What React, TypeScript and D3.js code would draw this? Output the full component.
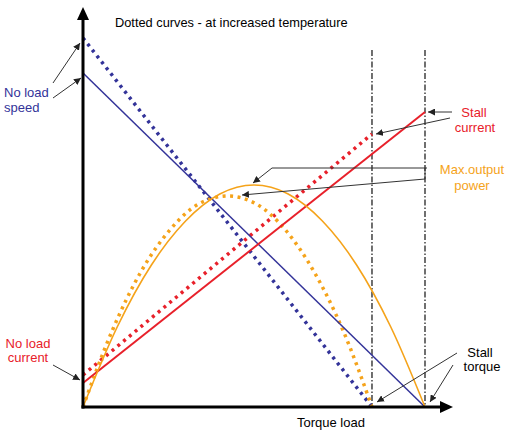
import { useEffect, useRef } from "react"
import * as d3 from "d3"

// torque in units where the normal stall torque is 10, values in chart units (0..400)
const speedNormal: [number, number][] = [[0, 334], [10, 0]]
const speedHot: [number, number][] = [[0, 369], [8.45, 0]]
const currentNormal: [number, number][] = [[0, 24], [10, 295]]
const currentHot: [number, number][] = [[0, 32], [8.45, 273]]

const powerTorqueNormal = [0, 1, 2, 3, 4, 5, 6, 7, 8, 9, 10]
const powerNormal = [0, 80, 142, 186, 213, 222, 213, 186, 142, 80, 0]
const powerTorqueHot = [0, 0.85, 1.69, 2.54, 3.38, 4.23, 5.07, 5.92, 6.76, 7.61, 8.45]
const powerHot = [0, 76, 135, 177, 203, 211, 203, 177, 135, 76, 0]

const stallTorques = [8.45, 10]

const BLUE = "#333399"
const RED = "#e8202a"
const ORANGE = "#f5a31a"
const FONT = "'Liberation Sans', Arial, sans-serif"

export default function App() {
  const svgRef = useRef<SVGSVGElement>(null)

  useEffect(() => {
    if (!svgRef.current) return
    const svg = d3.select(svgRef.current)
    svg.selectAll("*").remove()

    const width = 505
    const height = 433
    const x0 = 83
    const y0 = 407

    const x = d3.scaleLinear().domain([0, 10]).range([x0, 425])
    const y = d3.scaleLinear().domain([0, 400]).range([y0, 7])

    svg.attr("width", width).attr("height", height).attr("viewBox", [0, 0, width, height])

    const defs = svg.append("defs")
    defs
      .append("marker")
      .attr("id", "ah")
      .attr("viewBox", "0 0 10 10")
      .attr("refX", 10)
      .attr("refY", 5)
      .attr("markerWidth", 7)
      .attr("markerHeight", 7)
      .attr("markerUnits", "userSpaceOnUse")
      .attr("orient", "auto")
      .append("path")
      .attr("d", "M0,0 L10,5 L0,10 z")
      .attr("fill", "#222")

    // dash-dot stall torque verticals
    svg
      .selectAll("line.stall")
      .data(stallTorques)
      .enter()
      .append("line")
      .attr("x1", (d) => x(d))
      .attr("x2", (d) => x(d))
      .attr("y1", 50)
      .attr("y2", y0)
      .attr("stroke", "#111")
      .attr("stroke-width", 1.2)
      .attr("stroke-dasharray", "6 2 1.5 2")

    const line = d3
      .line<[number, number]>()
      .x((d) => x(d[0]))
      .y((d) => y(d[1]))

    const curve = d3
      .line<[number, number]>()
      .x((d) => x(d[0]))
      .y((d) => y(d[1]))
      .curve(d3.curveMonotoneX)

    const dotted = "3 4.5"

    const series = [
      { d: line(speedHot), c: BLUE, w: 3.5, dash: dotted },
      { d: line(currentHot), c: RED, w: 3.5, dash: dotted },
      { d: curve(powerTorqueHot.map((t, i) => [t, powerHot[i]] as [number, number])), c: ORANGE, w: 3.5, dash: dotted },
      { d: line(speedNormal), c: BLUE, w: 1.5, dash: null },
      { d: line(currentNormal), c: RED, w: 2, dash: null },
      { d: curve(powerTorqueNormal.map((t, i) => [t, powerNormal[i]] as [number, number])), c: ORANGE, w: 1.6, dash: null },
    ]

    svg
      .selectAll("path.series")
      .data(series)
      .enter()
      .append("path")
      .attr("d", (d) => d.d!)
      .attr("fill", "none")
      .attr("stroke", (d) => d.c)
      .attr("stroke-width", (d) => d.w)
      .attr("stroke-dasharray", (d) => d.dash)

    // axes
    svg.append("line").attr("x1", x0).attr("x2", x0).attr("y1", y0 + 1.5).attr("y2", 18).attr("stroke", "#000").attr("stroke-width", 3)
    svg.append("line").attr("x1", x0 - 1.5).attr("x2", 442).attr("y1", y0).attr("y2", y0).attr("stroke", "#000").attr("stroke-width", 3)
    svg.append("path").attr("d", `M${x0},7 L${x0 - 6},20 L${x0 + 6},20 Z`).attr("fill", "#000")
    svg.append("path").attr("d", `M453,${y0} L440,${y0 - 6} L440,${y0 + 6} Z`).attr("fill", "#000")

    // annotation arrows
    const arrows = [
      "M53,83 L80,43",
      "M53,98 L81,78",
      "M53,365 L80,380",
      "M452,112 L428,112",
      "M450,118 L376,134",
      "M427,168 L272,168 L253,183",
      "M425,168 L425,179 L242,195",
      "M457,353 L377,402",
      "M453,365 L430,402",
    ]
    svg
      .selectAll("path.arrow")
      .data(arrows)
      .enter()
      .append("path")
      .attr("d", (d) => d)
      .attr("fill", "none")
      .attr("stroke", "#333")
      .attr("stroke-width", 1)
      .attr("marker-end", "url(#ah)")

    const labels = [
      { t: "Dotted curves - at increased temperature", x: 115, y: 27, c: "#000", a: "start", s: 12.8 },
      { t: "No load", x: 4, y: 97, c: BLUE, a: "start", s: 13 },
      { t: "speed", x: 4, y: 112, c: BLUE, a: "start", s: 13 },
      { t: "No load", x: 28, y: 348, c: RED, a: "middle", s: 13 },
      { t: "current", x: 28, y: 362, c: RED, a: "middle", s: 13 },
      { t: "Stall", x: 474, y: 117, c: RED, a: "middle", s: 13 },
      { t: "current", x: 475, y: 132, c: RED, a: "middle", s: 13 },
      { t: "Max.output", x: 472, y: 174, c: ORANGE, a: "middle", s: 13 },
      { t: "power", x: 472, y: 190, c: ORANGE, a: "middle", s: 13 },
      { t: "Stall", x: 480, y: 357, c: "#000", a: "middle", s: 13 },
      { t: "torque", x: 482, y: 371, c: "#000", a: "middle", s: 13 },
      { t: "Torque load", x: 297, y: 427, c: "#000", a: "start", s: 13 },
    ]
    svg
      .selectAll("text.label")
      .data(labels)
      .enter()
      .append("text")
      .attr("x", (d) => d.x)
      .attr("y", (d) => d.y)
      .attr("fill", (d) => d.c)
      .attr("text-anchor", (d) => d.a)
      .attr("font-size", (d) => d.s)
      .attr("font-family", FONT)
      .text((d) => d.t)
  }, [])

  return (
    <div style={{ position: "absolute", left: 0, top: 0, width: 505, height: 433, background: "#fff" }}>
      <svg ref={svgRef} style={{ display: "block" }} />
    </div>
  )
}
